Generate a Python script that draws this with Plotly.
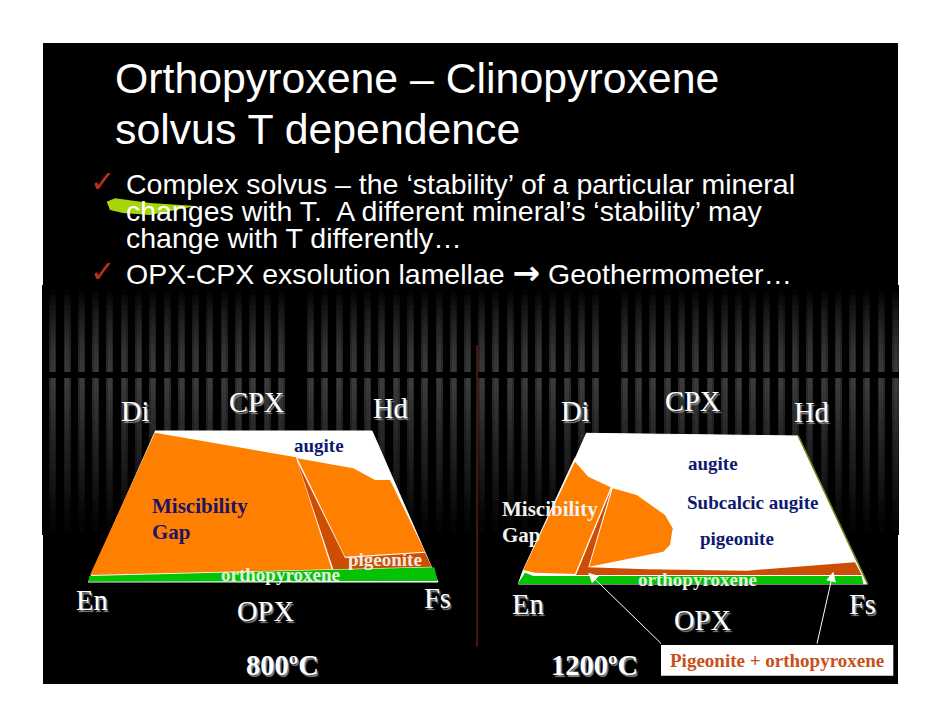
import plotly.graph_objects as go

SANS = "Liberation Sans"
SERIF = "Liberation Serif"
ORANGE = "#ff7f00"
RUST = "#cc4e04"
GREEN = "#05c205"

# outline of the slide and the striped backdrop
slide_x = [43, 898]
slide_y = [43, 684]
band_x = [42, 899]
band_y = [285, 535]
stripe_lefts = [49, 63.5, 78, 92, 106, 120.5, 135, 149, 163.5, 178, 192, 206, 220.5, 235, 249, 263.5, 277.5,
                307, 321, 335.5, 350, 364, 378, 392.5, 407, 421, 435.5, 450, 464, 478.3, 492.3, 506.7, 521, 535, 549, 563.7, 578, 592.3,
                621, 635, 649.3, 664, 678.3, 692.3, 706.7, 721, 735, 749.3, 763.3, 777.7, 791.7, 806, 820.7, 834.7, 849, 863.3, 877.7, 892]
stripe_steps = [0, 1.5, 5.5, 7]
stripe_weights = [0.75, 1, 0.75]
stripe_rows = [290, 295, 300, 305, 310, 315, 320, 325, 330, 335, 340, 345, 350, 355, 360, 365, 372,
               378, 390, 400, 410, 420, 430, 440, 450, 460, 470, 480, 490, 500, 510, 520, 532]
stripe_levels = [4, 9, 14, 19, 24, 28, 32, 36, 39, 42, 45, 48, 50, 52, 54, 56,
                 0, 58, 54, 50, 46, 42, 38, 34, 31, 28, 24, 20, 16, 12, 8, 4]

# 800 C panel
left_white_x = [155, 372, 438, 88]
left_white_y = [431, 431, 582, 582]
left_gap_a_x = [155, 296, 331.7, 90]
left_gap_a_y = [432.7, 457.3, 569.3, 575]
left_gap_b_x = [297.3, 353.3, 375, 390, 425, 345]
left_gap_b_y = [458.3, 468.3, 480, 480, 551.7, 556.7]
left_pig_x = [298, 345, 425, 431.7, 333.3]
left_pig_y = [463, 558, 552.7, 566.7, 569.3]
left_opx_x = [89.3, 434.3, 437.7, 88.3]
left_opx_y = [576, 567.3, 581, 581.7]

# 1200 C panel
right_white_x = [586, 798.3, 867.7, 518.3, 523, 575]
right_white_y = [433.3, 436, 584, 584, 570.7, 458]
right_edge_x = [798.3, 867.7]
right_edge_y = [436, 584]
right_gap_a_x = [575, 588.3, 610.7, 575, 535, 523.3]
right_gap_a_y = [461.7, 476.7, 487.3, 574, 572.7, 570]
right_gap_b_x = [612.7, 636.7, 665, 672.7, 670, 663.3, 589.3]
right_gap_b_y = [488.3, 495, 515, 528.3, 545, 551.7, 566.7]
right_pig_x = [611, 588.3, 646.7, 746.7, 855, 861.7, 576]
right_pig_y = [490, 567.3, 569.3, 570.7, 562.3, 575, 575]
right_opx_x = [525, 533.3, 861.7, 863.3, 517.7]
right_opx_y = [572.7, 576, 576, 584, 584]

# highlighter stroke on the bullet text
swoosh_x = [106.7, 115, 150, 196, 186, 150, 123, 110]
swoosh_y = [201.7, 198.3, 203, 206, 208, 215, 213, 210]

# call-out box
box_x = [661, 893.3, 893.3, 661]
box_y = [645, 645, 675.7, 675.7]

title_lines = ["Orthopyroxene – Clinopyroxene", "solvus T dependence"]
title_y = [78, 129]
bullet_lines = [
    "Complex solvus – the ‘stability’ of a particular mineral",
    "changes with T.  A different mineral’s ‘stability’ may",
    "change with T differently…",
    "OPX-CPX exsolution lamellae <span style=\"font-family:'DejaVu Sans';font-weight:bold;font-size:33px\">→</span> Geothermometer…",
]
bullet_y = [183.5, 210.5, 237.5, 272]
check_y = [181, 271]

# text, x, y, size for the shadowed labels
white_labels = [
    ("Di", 135, 411, 28.5), ("CPX", 257, 402, 28.5), ("Hd", 390, 408, 28.5),
    ("En", 92, 600, 28.5), ("OPX", 265, 611, 28.5), ("Fs", 437, 598, 28.5),
    ("Di", 575, 411, 28.5), ("CPX", 693, 401, 28.5), ("Hd", 811, 412, 28.5),
    ("En", 528, 604, 28.5), ("OPX", 702, 620, 28.5), ("Fs", 862, 604, 28.5),
]
temps = [("800ºC", 282, 665), ("1200ºC", 594, 665)]
# text, x, y, size, colour
phase_labels = [
    ("augite", 319, 445, 19, "#0d1a70"),
    ("Miscibility", 150, 506, 21, "#1b1464"),
    ("Gap", 150, 532, 21, "#1b1464"),
    ("pigeonite", 385, 559, 19, "#f5ece0"),
    ("orthopyroxene", 280, 574, 19, "#e4f5e4"),
    ("augite", 713, 463, 19, "#0d1a70"),
    ("Subcalcic augite", 752, 502, 19, "#0d1a70"),
    ("pigeonite", 737, 538, 19, "#0d1a70"),
    ("Miscibility", 500, 509, 21, "#f2f2f2"),
    ("Gap", 500, 535, 21, "#f2f2f2"),
    ("orthopyroxene", 697, 579, 19, "#e4f5e4"),
    ("Pigeonite + orthopyroxene", 777, 660, 19, "#c8501a"),
]


def poly(x, y, fill, width=0):
    return go.Scatter(
        x=x, y=y, mode="lines", fill="toself", fillcolor=fill,
        line=dict(color=fill, width=width), hoverinfo="skip", showlegend=False,
    )


fig = go.Figure()
# black slide goes under the heatmap layer
fig.add_shape(type="rect", x0=slide_x[0], x1=slide_x[1], y0=slide_y[0], y1=slide_y[1],
              fillcolor="#000000", line_width=0, layer="below")
fig.add_shape(type="rect", x0=band_x[0], x1=band_x[1], y0=band_y[0], y1=band_y[1],
              fillcolor="#000000", line_width=0, layer="below")

# each stripe is three soft-edged columns, brightness comes from the row levels
col_edges = []
col_weights = []
for left in stripe_lefts:
    for step in stripe_steps:
        col_edges.append(left + step)
    col_weights += stripe_weights + [0]
col_weights = col_weights[:len(col_edges) - 1]
z_rows = [[level * w for w in col_weights] for level in stripe_levels]
fig.add_trace(go.Heatmap(
    x=col_edges, y=stripe_rows, z=z_rows, zmin=0, zmax=255,
    colorscale=[[0, "#000000"], [1, "#ffffff"]], showscale=False, hoverinfo="skip",
))

fig.add_trace(poly(swoosh_x, swoosh_y, "#a6d60a"))

fig.add_trace(poly(left_white_x, left_white_y, "#ffffff", 1))
fig.add_trace(poly(left_gap_a_x, left_gap_a_y, ORANGE))
fig.add_trace(poly(left_gap_b_x, left_gap_b_y, ORANGE))
fig.add_trace(poly(left_pig_x, left_pig_y, RUST))
fig.add_trace(poly(left_opx_x, left_opx_y, GREEN))

fig.add_trace(poly(right_white_x, right_white_y, "#ffffff", 1))
fig.add_trace(go.Scatter(x=right_edge_x, y=right_edge_y, mode="lines", hoverinfo="skip", showlegend=False,
                         line=dict(color="#6b7d10", width=1.5)))
fig.add_trace(poly(right_gap_a_x, right_gap_a_y, ORANGE))
fig.add_trace(poly(right_gap_b_x, right_gap_b_y, ORANGE))
fig.add_trace(poly(right_pig_x, right_pig_y, RUST))
fig.add_trace(poly(right_opx_x, right_opx_y, GREEN))
fig.add_trace(poly(box_x, box_y, "#ffffff"))

fig.update_xaxes(range=[0, 942], visible=False, fixedrange=True)
fig.update_yaxes(range=[728, 0], visible=False, fixedrange=True)

# red divider
fig.add_shape(type="line", x0=477, x1=477, y0=345, y1=647, line=dict(color="#8c2a1a", width=1))

for text, y in zip(title_lines, title_y):
    fig.add_annotation(x=113, y=y, text=text, showarrow=False, xanchor="left", yanchor="middle",
                       font=dict(family=SANS, size=42.8, color="#ffffff"))
for text, y in zip(bullet_lines, bullet_y):
    fig.add_annotation(x=124, y=y, text=text, showarrow=False, xanchor="left", yanchor="middle",
                       font=dict(family=SANS, size=28.5, color="#ffffff"))
for y in check_y:
    fig.add_annotation(x=102, y=y, text="✓", showarrow=False, xanchor="center", yanchor="middle",
                       font=dict(family="DejaVu Sans", size=30, color="#b83418"))

for text, x, y, size in white_labels:
    fig.add_annotation(x=x, y=y, text=text, showarrow=False, xanchor="center", yanchor="middle",
                       font=dict(family=SERIF, size=size, color="#ffffff", shadow="1.5px 1.5px 1px #888888"))
for text, x, y in temps:
    fig.add_annotation(x=x, y=y, text=f"<b>{text}</b>", showarrow=False, xanchor="center", yanchor="middle",
                       font=dict(family=SERIF, size=28.5, color="#ffffff", shadow="1.5px 1.5px 1px #888888"))
for text, x, y, size, color in phase_labels:
    anchor = "left" if text in ("Miscibility", "Gap") else "center"
    fig.add_annotation(x=x, y=y, text=f"<b>{text}</b>", showarrow=False, xanchor=anchor, yanchor="middle",
                       font=dict(family=SERIF, size=size, color=color))

# arrows from the call-out box
fig.add_annotation(x=588.3, y=572.7, ax=662.7, ay=645, axref="x", ayref="y", text="", showarrow=True,
                   arrowhead=2, arrowsize=2, arrowwidth=1, arrowcolor="#ffffff")
fig.add_annotation(x=833.3, y=571.7, ax=816.7, ay=645, axref="x", ayref="y", text="", showarrow=True,
                   arrowhead=2, arrowsize=2, arrowwidth=1, arrowcolor="#ffffff")

fig.update_layout(
    width=942, height=728, margin=dict(l=0, r=0, t=0, b=0),
    paper_bgcolor="#ffffff", plot_bgcolor="#ffffff", showlegend=False,
)
fig.write_html("out.html", config={"displayModeBar": False},
               post_script="document.body.style.margin='0';document.body.style.overflow='hidden';")
